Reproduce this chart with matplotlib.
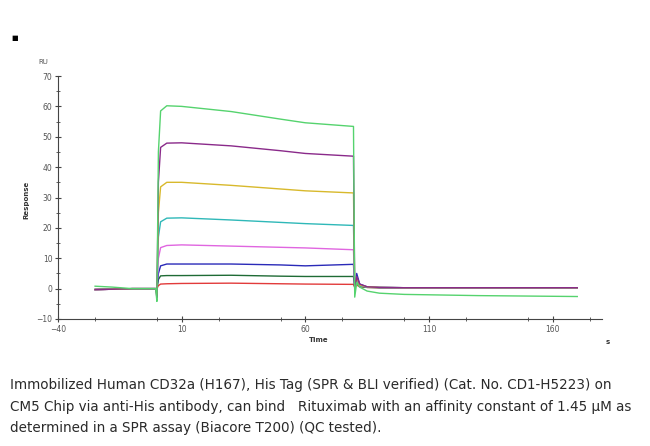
import matplotlib
matplotlib.use('Agg')
import matplotlib.pyplot as plt
from matplotlib.ticker import MultipleLocator

# Sensorgram values (time in s, response in RU)
tempo = [-25, -18, -10, -0.5, 0, 0.6, 1.5, 4, 10, 30, 50, 60, 79.5, 80, 80.8, 82, 85, 90, 100, 130, 170]

verde = [0.8, 0.5, 0, 0, -4.2, 45, 58.5, 60.2, 60, 58.3, 55.8, 54.6, 53.4, -2.8, 2.0, 0.5, -0.8, -1.5, -1.9, -2.3, -2.6]
roxo = [-0.3, -0.2, 0, 0, -3, 35, 46.5, 47.9, 48, 47, 45.4, 44.5, 43.6, -1, 4, 1.5, 0.6, 0.4, 0.3, 0.3, 0.3]
amarelo = [-0.3, -0.2, 0, 0, -2, 25, 33.5, 35, 35, 34, 32.8, 32.2, 31.5, -0.5, 3.5, 1.2, 0.6, 0.4, 0.3, 0.3, 0.3]
ciano = [-0.3, -0.2, 0, 0, -1.5, 17, 22, 23.2, 23.3, 22.6, 21.8, 21.4, 20.8, 0, 3, 1, 0.5, 0.4, 0.3, 0.3, 0.3]
magenta = [-0.4, -0.2, 0, 0, -1, 10, 13.5, 14.2, 14.4, 14, 13.6, 13.4, 12.8, 0, 2.5, 1, 0.5, 0.4, 0.3, 0.3, 0.3]
azul = [-0.3, -0.2, 0, 0, -0.5, 5, 7.5, 8.1, 8.1, 8.1, 7.8, 7.5, 8, 0, 5, 1.5, 0.6, 0.4, 0.3, 0.3, 0.3]
verde_escuro = [-0.3, -0.2, 0, 0, 0, 3, 4.2, 4.3, 4.3, 4.4, 4.1, 4.0, 4.0, 0.5, 2, 0.8, 0.4, 0.3, 0.3, 0.3, 0.3]
vermelho = [-0.3, -0.2, 0, 0, 0, 1, 1.5, 1.6, 1.7, 1.8, 1.6, 1.5, 1.4, 0.5, 1.2, 0.6, 0.4, 0.3, 0.3, 0.3, 0.3]

curvas = [
    (vermelho, '#e23b3b'),
    (verde_escuro, '#1f6b35'),
    (azul, '#2a2ab8'),
    (magenta, '#e066e0'),
    (ciano, '#2fb8b8'),
    (amarelo, '#d8b92c'),
    (roxo, '#8a2a8a'),
    (verde, '#55d36e'),
]

x_ticks = [-40, 10, 60, 110, 160]
y_ticks = [-10, 0, 10, 20, 30, 40, 50, 60, 70]

legenda = [
    'Immobilized Human CD32a (H167), His Tag (SPR & BLI verified) (Cat. No. CD1-H5223) on',
    'CM5 Chip via anti-His antibody, can bind   Rituximab with an affinity constant of 1.45 \u03bcM as',
    'determined in a SPR assay (Biacore T200) (QC tested).',
]

fig = plt.figure(figsize=(6.5, 4.46), dpi=100)
ax = fig.add_axes([58 / 650, 127 / 446, 544 / 650, 243 / 446])

for valores, cor in curvas:
    ax.plot(tempo, valores, color=cor, linewidth=1.0)

ax.set_xlim(-40, 180)
ax.set_ylim(-10, 70)
ax.set_xticks(x_ticks)
ax.set_yticks(y_ticks)
ax.xaxis.set_minor_locator(MultipleLocator(25))
ax.yaxis.set_minor_locator(MultipleLocator(5))
ax.spines['top'].set_visible(False)
ax.spines['right'].set_visible(False)
for s in ['left', 'bottom']:
    ax.spines[s].set_color('#444444')
    ax.spines[s].set_linewidth(0.8)
ax.tick_params(which='major', direction='inout', length=4, width=0.8,
               labelsize=5.5, labelcolor='#555555', color='#444444', pad=2)
ax.tick_params(which='minor', direction='inout', length=2.5, width=0.6, color='#444444')

fig.text(43 / 650, 1 - 62 / 446, 'RU', fontsize=5, color='#555555', ha='center', va='center')
fig.text(26 / 650, 1 - 200 / 446, 'Response', fontsize=5, fontweight='bold', color='#333333',
         rotation=90, ha='center', va='center')
fig.text(319 / 650, 1 - 340 / 446, 'Time', fontsize=5, fontweight='bold', color='#333333',
         ha='center', va='center')
fig.text(608 / 650, 1 - 342 / 446, 's', fontsize=5, fontweight='bold', color='#333333',
         ha='center', va='center')
fig.text(15 / 650, 1 - 38 / 446, '\u25a0', fontsize=5, color='black', ha='center', va='center')

for i, linha in enumerate(legenda):
    fig.text(10 / 650, 1 - (385 + 21.5 * i) / 446, linha, fontsize=9.75,
             family=['DejaVu Sans'], color='#2a2a2a', va='center', ha='left')

fig.savefig('out.png', dpi=100)
